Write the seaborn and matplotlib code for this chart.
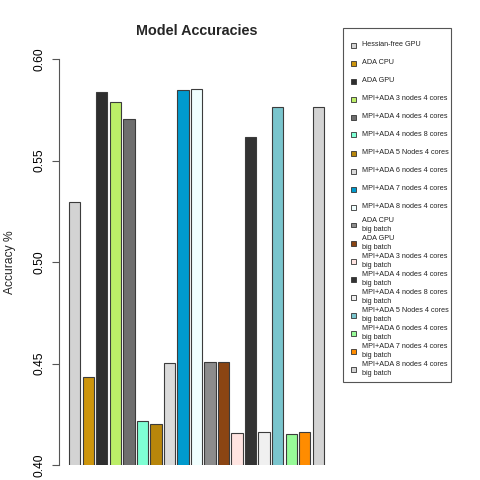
import matplotlib
matplotlib.use("Agg")
import matplotlib.pyplot as plt
from matplotlib.patches import Rectangle
import seaborn as sns
import pandas as pd

models = [
    "Hessian-free GPU",
    "ADA CPU",
    "ADA GPU",
    "MPI+ADA 3 nodes 4 cores",
    "MPI+ADA 4 nodes 4 cores",
    "MPI+ADA 4 nodes 8 cores",
    "MPI+ADA 5 Nodes 4 cores",
    "MPI+ADA 6 nodes 4 cores",
    "MPI+ADA 7 nodes 4 cores",
    "MPI+ADA 8 nodes 4 cores",
    "ADA CPU\nbig batch",
    "ADA GPU\nbig batch",
    "MPI+ADA 3 nodes 4 cores\nbig batch",
    "MPI+ADA 4 nodes 4 cores\nbig batch",
    "MPI+ADA 4 nodes 8 cores\nbig batch",
    "MPI+ADA 5 Nodes 4 cores\nbig batch",
    "MPI+ADA 6 nodes 4 cores\nbig batch",
    "MPI+ADA 7 nodes 4 cores\nbig batch",
    "MPI+ADA 8 nodes 4 cores\nbig batch",
]
accuracy = [0.5296, 0.4433, 0.5837, 0.5788, 0.5704, 0.4217, 0.4202, 0.4502,
            0.5845, 0.5851, 0.4509, 0.4509, 0.4156, 0.5617, 0.4161, 0.5762,
            0.4151, 0.4164, 0.5764]
colors = ["#D3D3D3", "#CD950C", "#2E2E2E", "#BCEE68", "#6E6E6E", "#7FFFD4",
          "#B8860B", "#DADADA", "#009ACD", "#F0FFFF", "#8C8C8C", "#8B4513",
          "#FFE4E1", "#333333", "#F0F0F0", "#7AC5CD", "#98FB98", "#FF8C00",
          "#D3D3D3"]
yticks = [0.40, 0.45, 0.50, 0.55, 0.60]
ytick_labels = ["0.40", "0.45", "0.50", "0.55", "0.60"]

sns.set_style("white")
plt.rcParams["font.family"] = ["Liberation Sans", "DejaVu Sans"]

W = H = 480
fig = plt.figure(figsize=(4.8, 4.8), dpi=100)
ax = fig.add_axes([59 / W, 15 / H, 275 / W, 406 / H])

df = pd.DataFrame({"model": models, "acc": accuracy})
sns.barplot(data=df, x="model", y="acc", hue="model", palette=colors,
            order=models, hue_order=models, width=0.8333, dodge=False,
            saturation=1, edgecolor="#3c3c3c", linewidth=0.8, legend=False,
            ax=ax)

ax.set_ylim(0.4, 0.6)
ax.set_xlim(-1.17, len(models) - 1 + 1.17)
ax.set_xlabel("")
ax.set_ylabel("")
ax.set_xticks([])
for s in ["top", "right", "bottom"]:
    ax.spines[s].set_visible(False)
ax.spines["left"].set_bounds(0.4, 0.6)
ax.spines["left"].set_color("#555555")
ax.spines["left"].set_linewidth(0.8)
ax.set_yticks(yticks)
ax.set_yticklabels(ytick_labels)
ax.tick_params(axis="y", left=True, length=5, width=0.8, color="#555555",
               pad=5, labelsize=8.64, labelcolor="black")
for t in ax.get_yticklabels():
    t.set_rotation(90)
    t.set_va("center")
    t.set_ha("right")

ax.set_title("Model Accuracies", fontsize=10.4, fontweight="bold", pad=17)
fig.text(10 / W, 1 - 262 / H, "Accuracy %", rotation=90, va="center",
         ha="center", fontsize=8.64)

# legend box (manual, R-style constant spacing)
fig.add_artist(Rectangle((343 / W, 1 - 382 / H), (451 - 343) / W, (382 - 28) / H,
                         transform=fig.transFigure, facecolor="white",
                         edgecolor="#555555", linewidth=0.8))
sq = 5
for i, (lab, col) in enumerate(zip(models, colors)):
    yc = 45 + 18 * i
    fig.add_artist(Rectangle(((353 - sq / 2) / W, 1 - (yc + sq / 2) / H), sq / W, sq / H,
                             transform=fig.transFigure, facecolor=col,
                             edgecolor="#333333", linewidth=0.6))
    fig.text(362 / W, 1 - yc / H, lab, va="center", ha="left", fontsize=5.2,
             linespacing=1.25, color="#222222")

fig.savefig("out.png", dpi=100)
